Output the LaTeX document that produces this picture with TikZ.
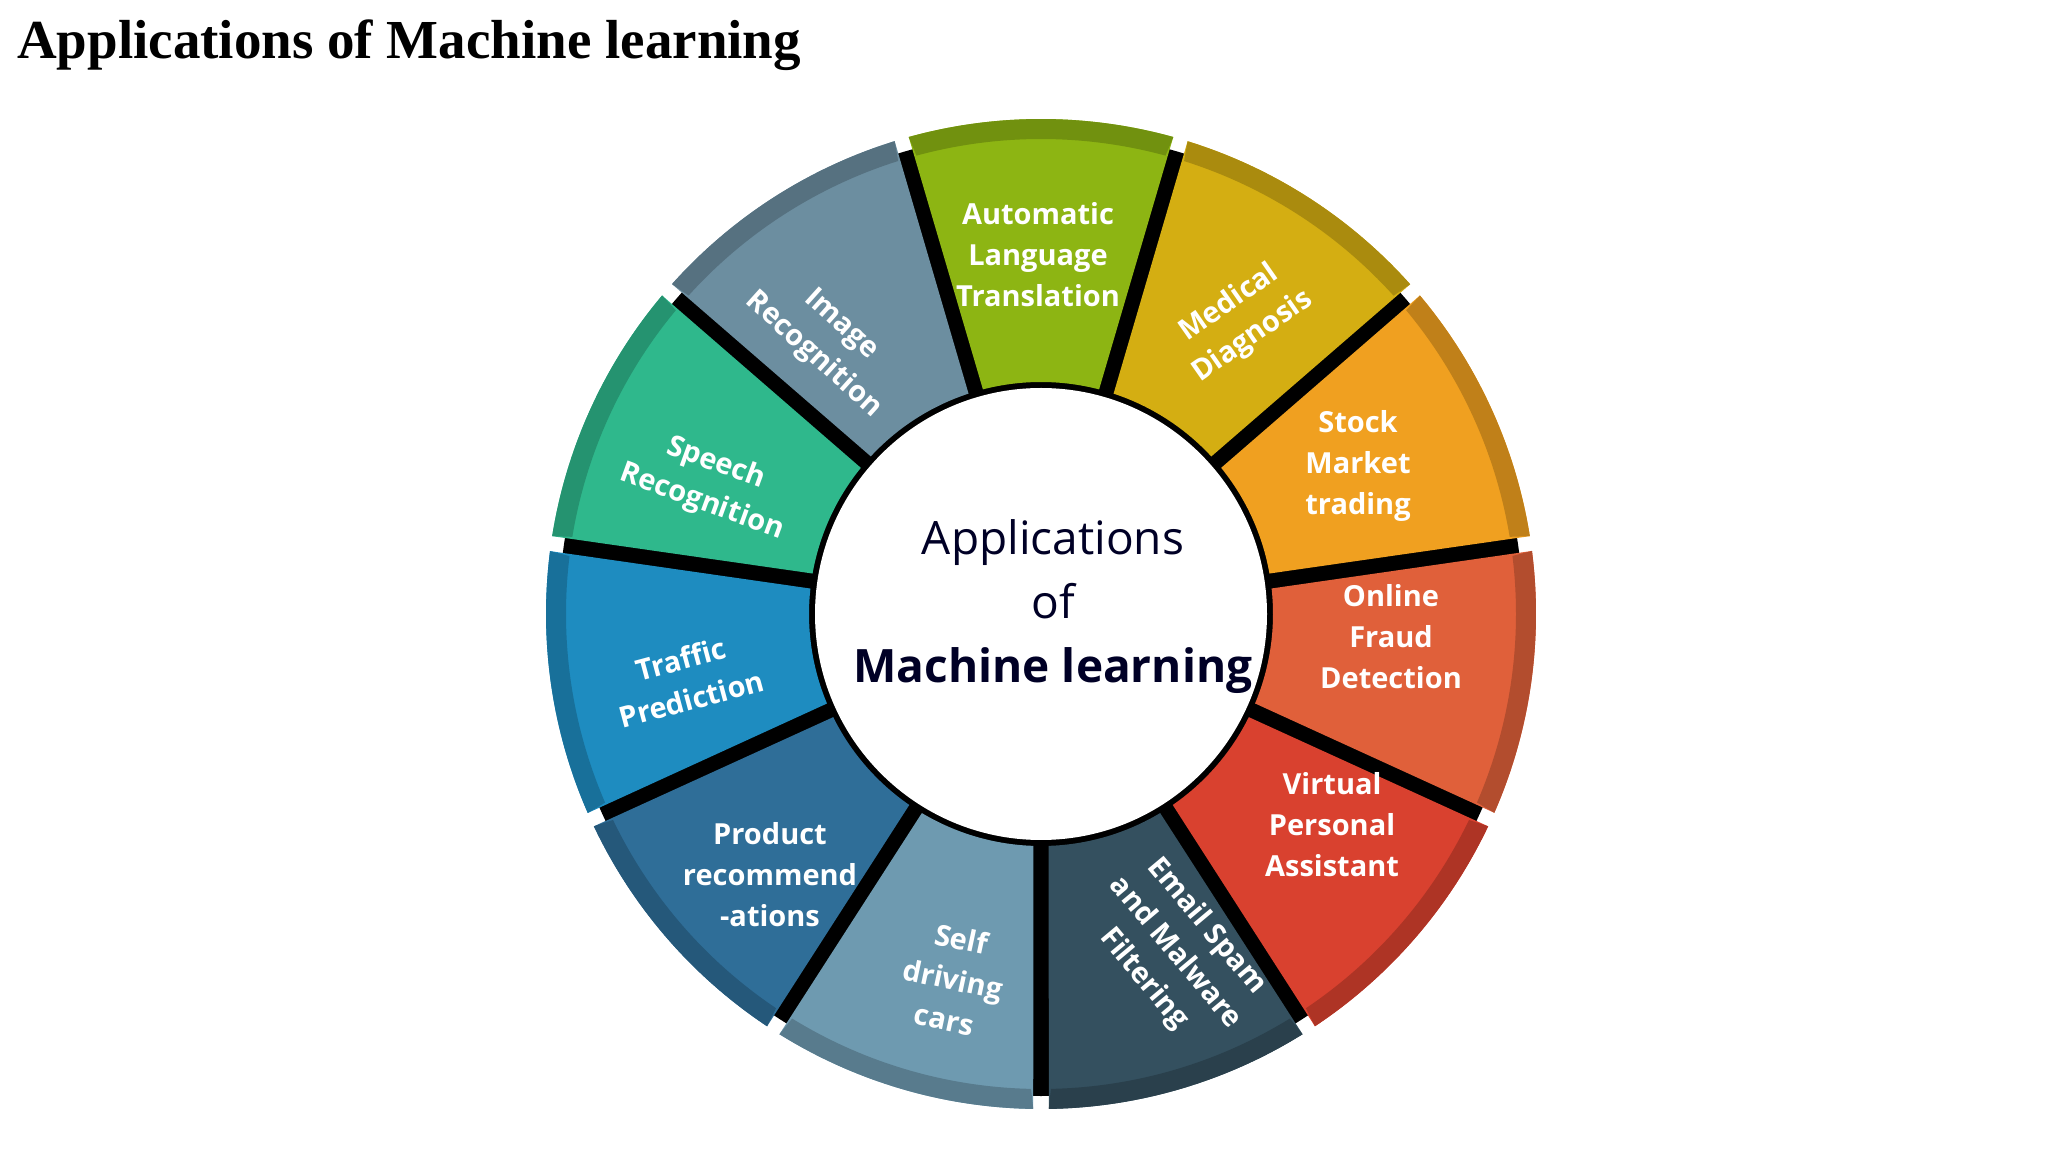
\documentclass[tikz,border=0pt]{standalone}
\usetikzlibrary{calc}
\usepackage{fontspec}
\setmainfont{Liberation Serif}
\newfontfamily\segfont{Open Sans}
\begin{document}
\begin{tikzpicture}[x=1pt,y=1pt,
  lbl/.style={text=white,font=\segfont\bfseries\fontsize{29}{41}\selectfont,align=center,inner sep=0pt}]
\useasboundingbox[fill=white] (0,0) rectangle (2048,1152);
\node[anchor=base west,inner sep=0pt,font=\bfseries\fontsize{55}{60}\selectfont] (title) at (17,1093) {Applications of Machine learning};
\coordinate (c) at (1041,538);
\fill[black] (c) circle[radius=482];
\foreach \a/\col in {90/8DB513, 57.27/D4AE12, 24.55/F0A020, -8.18/E0603A, -40.9/D9412F, -73.6/34505F, -106.4/6E9AB0, -139.1/2F6E98, -171.8/1E8CC0, 155.45/2FB88C, 122.7/6C8EA0}{
  \definecolor{segc}{HTML}{\col}
  \fill[segc,shift={(c)}] (\a-14.5:232) arc[start angle=\a-14.5,end angle=\a+14.5,radius=232]
     -- (\a+15.5:495) arc[start angle=\a+15.5,end angle=\a-15.5,radius=495] -- cycle;
  \fill[segc!80!black,shift={(c)}] (\a-15.5:495) arc[start angle=\a-15.5,end angle=\a+15.5,radius=495]
     -- (\a+15.2:475) arc[start angle=\a+15.2,end angle=\a-15.2,radius=475] -- cycle;
}
\fill[white] (c) circle[radius=226];
\node[font=\segfont\fontsize{46}{64}\selectfont,text=black!85!blue,align=center] (center) at (1053,545)
  {Applications\\of\\\textbf{Machine learning}};
\node[lbl] (auto) at (1038,897) {Automatic\\Language\\Translation};
\node[lbl,rotate=35] (med) at (1241,832) {Medical\\Diagnosis};
\node[lbl] (stock) at (1358,686) {Stock\\Market\\trading};
\node[lbl] (fraud) at (1391,515) {Online\\Fraud\\Detection};
\node[lbl] (virt) at (1332,327) {Virtual\\Personal\\Assistant};
\node[lbl,rotate=-50] (email) at (1175,199) {Email Spam\\and Malware\\Filtering};
\node[lbl,rotate=-12] (self) at (953,173) {Self\\driving\\cars};
\node[lbl] (prod) at (770,277) {Product\\recommend\\-ations};
\node[lbl,rotate=15] (traffic) at (686,473) {Traffic\\Prediction};
\node[lbl,rotate=-20] (speech) at (709,669) {Speech\\Recognition};
\node[lbl,rotate=-42] (image) at (827,812) {Image\\Recognition};
\end{tikzpicture}
\end{document}
